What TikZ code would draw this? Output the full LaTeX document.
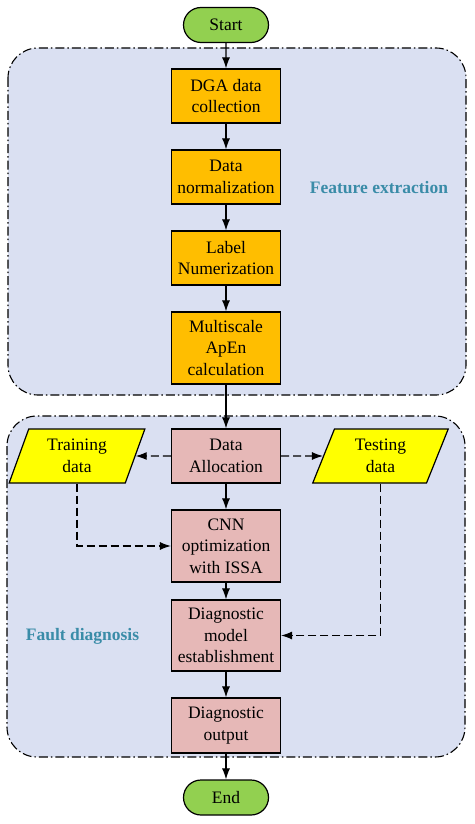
\documentclass[tikz,border=0pt]{standalone}
\usepackage{fontspec}
\setmainfont{Liberation Serif}
\usetikzlibrary{shapes.geometric,shapes.misc,arrows.meta}
\definecolor{bgblue}{RGB}{218,224,242}
\definecolor{orangebox}{RGB}{255,190,0}
\definecolor{pinkbox}{RGB}{230,184,183}
\definecolor{yellowbox}{RGB}{255,255,0}
\definecolor{greenterm}{RGB}{146,208,80}
\definecolor{tealtext}{RGB}{58,140,168}
\tikzset{
  x=1pt, y=-1pt,
  region/.style={draw=black, fill=bgblue, line width=1.1pt, rounded corners=30pt,
    dash pattern=on 9pt off 3pt on 1.5pt off 3pt},
  term/.style={draw=black, fill=greenterm, rounded rectangle, line width=1.2pt,
    minimum width=89pt, minimum height=35pt, inner sep=2pt, font=\fontsize{17.5}{21}\selectfont},
  obox/.style={draw=black, fill=orangebox, line width=1.2pt, minimum width=109pt,
    align=center, inner sep=1pt, font=\fontsize{17.5}{21.5}\selectfont},
  pbox/.style={obox, fill=pinkbox},
  para/.style={draw=black, fill=yellowbox, line width=1.2pt, trapezium,
    trapezium left angle=70, trapezium right angle=110, trapezium stretches=true,
    minimum width=136pt, minimum height=54pt, inner sep=0pt, align=center,
    font=\fontsize{17.5}{21.5}\selectfont},
  arr/.style={-{Latex[length=11pt,width=8pt]}, line width=1.1pt},
  darr/.style={arr, dash pattern=on 8pt off 4pt},
  lbl/.style={text=tealtext, font=\fontsize{17.5}{20}\selectfont\bfseries}
}
\begin{document}
\begin{tikzpicture}
\useasboundingbox (0,0) rectangle (474,824);
\fill[white] (0,0) rectangle (474,824);
% regions
\draw[region] (8,48) rectangle (466,395);
\draw[region] (7,416) rectangle (465,757);
\node[lbl] (fe) at (379,188) {Feature extraction};
\node[lbl] (fd) at (82.5,636) {Fault diagnosis};
% nodes
\node[term] (start) at (226,25) {Start};
\node[obox, minimum height=54pt] (dga) at (226,96) {DGA data\\collection};
\node[obox, minimum height=54pt] (norm) at (226,177) {Data\\normalization};
\node[obox, minimum height=54pt] (label) at (226,258) {Label\\Numerization};
\node[obox, minimum height=72pt] (ms) at (226,348) {Multiscale\\ApEn\\calculation};
\node[pbox, minimum height=54pt] (da) at (226,456) {Data\\Allocation};
\node[para] (train) at (77,456) {Training\\data};
\node[para] (test) at (380.5,456) {Testing\\data};
\node[pbox, minimum height=72pt] (cnn) at (226,546) {CNN\\optimization\\with ISSA};
\node[pbox, minimum height=71pt] (dm) at (226,635.5) {Diagnostic\\model\\establishment};
\node[pbox, minimum height=55pt] (do) at (226,725.5) {Diagnostic\\output};
\node[term] (end) at (226,797.5) {End};
% connectors
\draw[arr] (start) -- (dga);
\draw[arr] (dga) -- (norm);
\draw[arr] (norm) -- (label);
\draw[arr] (label) -- (ms);
\draw[arr] (ms) -- (da);
\draw[arr] (da) -- (cnn);
\draw[arr] (cnn) -- (dm);
\draw[arr] (dm) -- (do);
\draw[arr] (do) -- (end);
\draw[darr] (da) -- (train);
\draw[darr] (da) -- (test);
\draw[darr] (train.south) |- (cnn.west);
\draw[darr] (test.south) |- (dm.east);
\end{tikzpicture}
\end{document}
